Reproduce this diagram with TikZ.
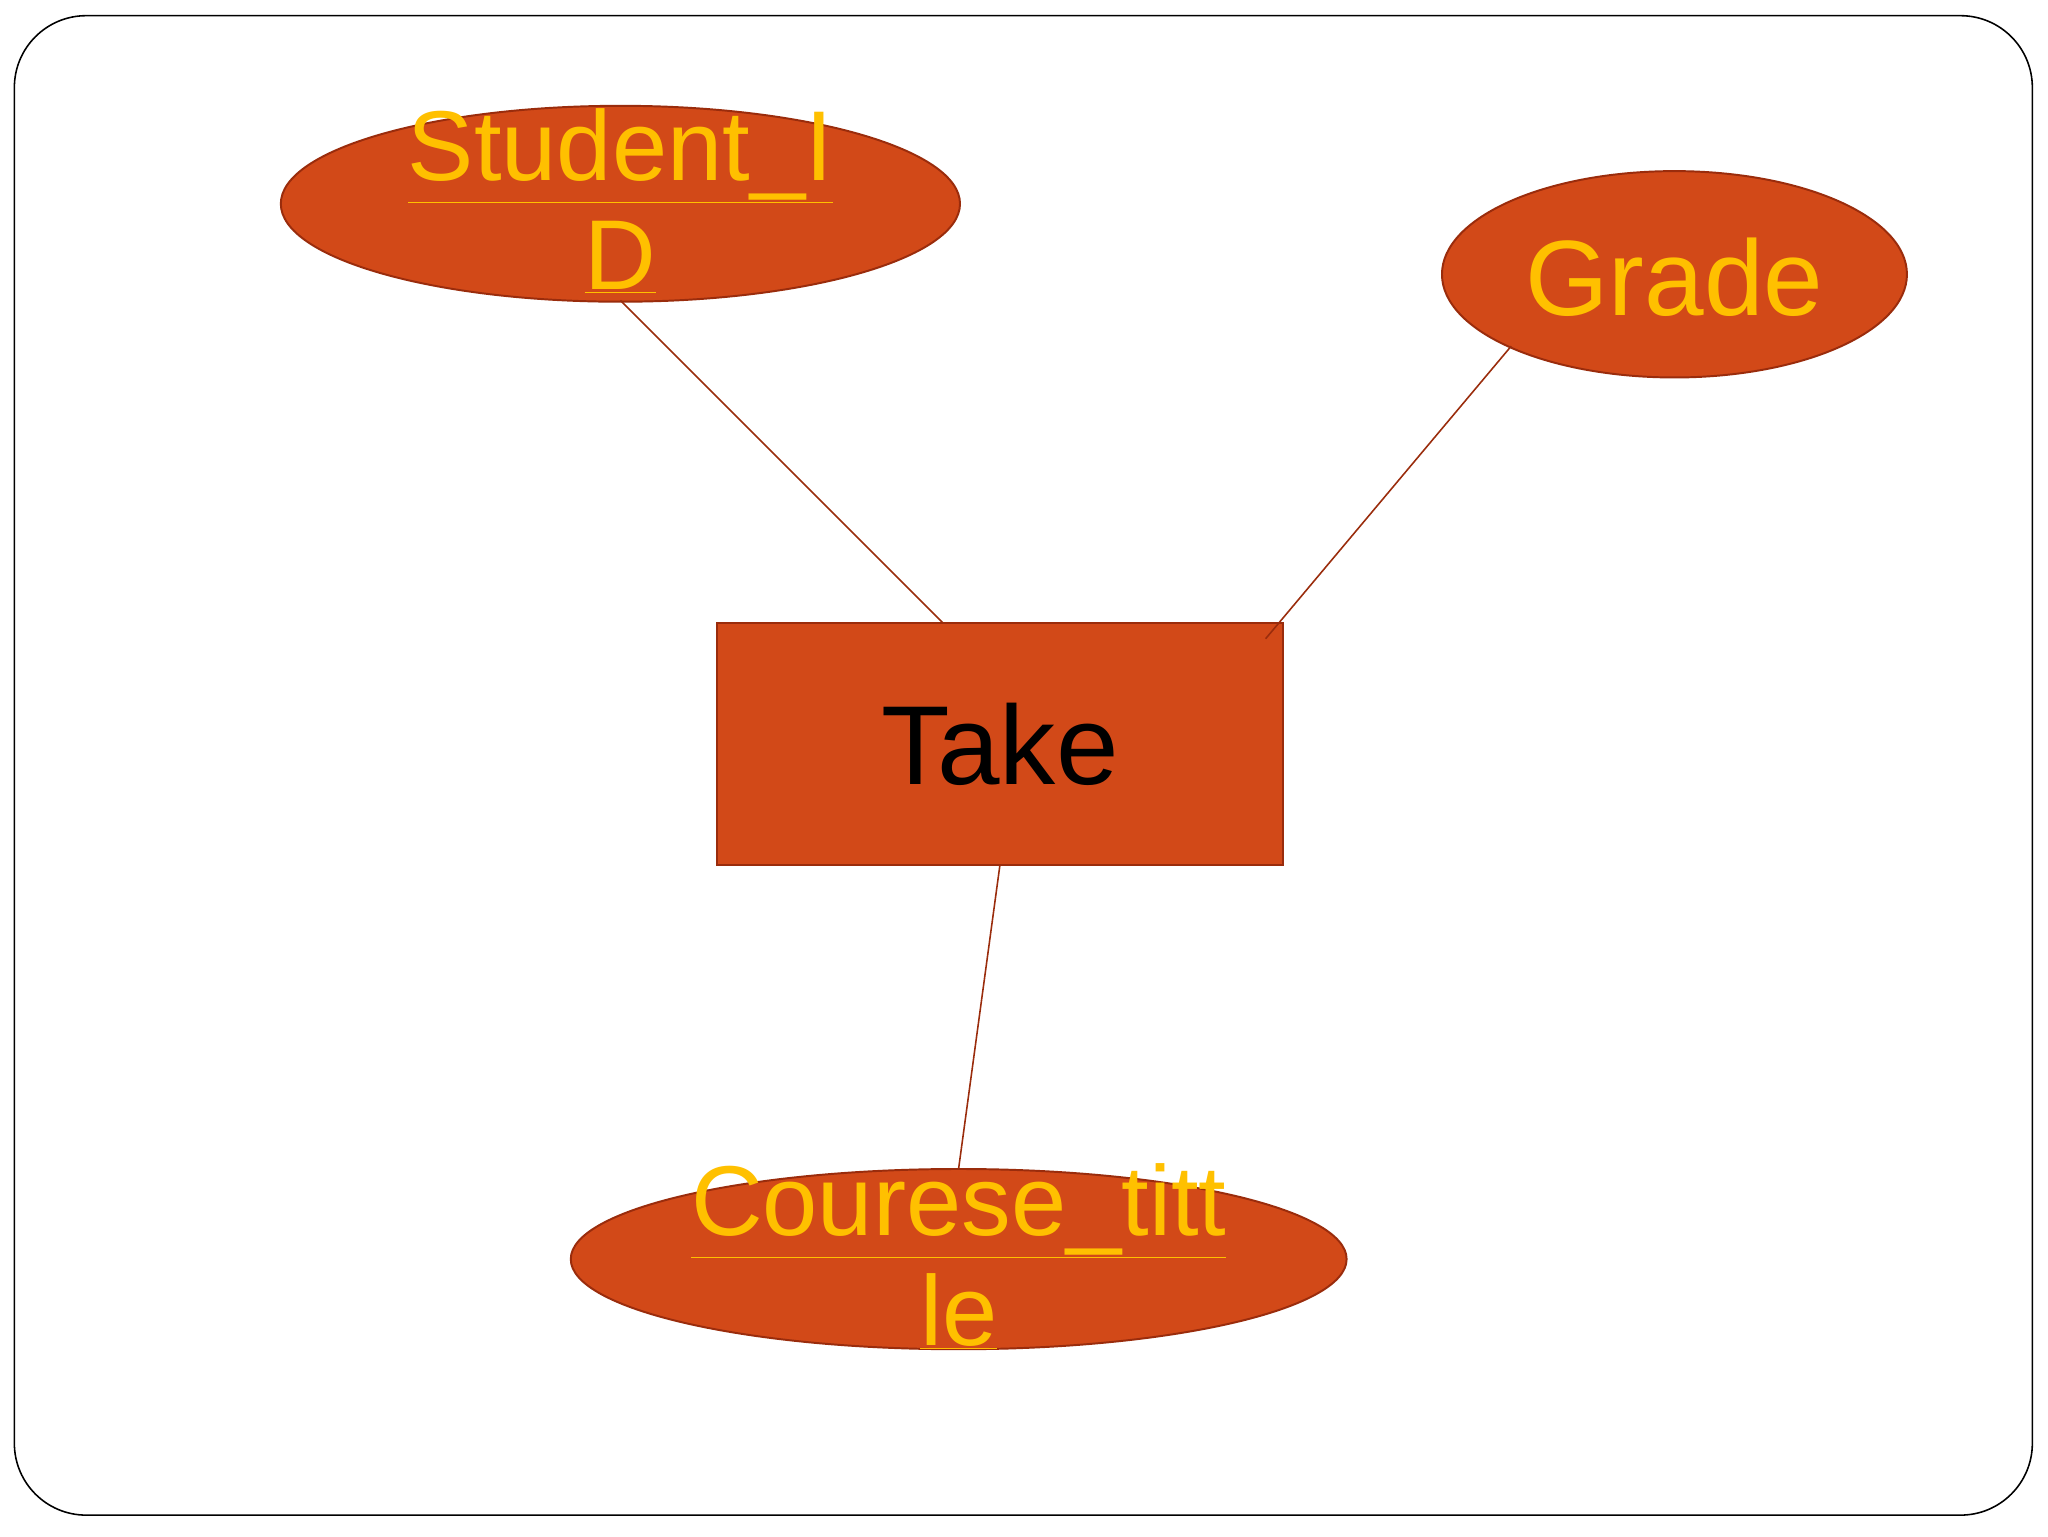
\documentclass[tikz,border=0pt]{standalone}
\usepackage{fontspec}
\setmainfont{Liberation Sans}
\usetikzlibrary{shapes.geometric}
\definecolor{erfill}{HTML}{D24918}
\definecolor{erline}{HTML}{9A2C0C}
\definecolor{ertext}{HTML}{FFC000}
\tikzset{
 attr/.style={ellipse,draw=erline,fill=erfill,line width=1.5pt,inner sep=0pt},
 conn/.style={draw=erline,line width=1.2pt},
 atext/.style={text=ertext,inner sep=0pt,anchor=base},
}
\begin{document}
\begin{tikzpicture}[x=1pt,y=-1pt]
\useasboundingbox (0,0) rectangle (1568,1176);
\fill[white] (0,0) rectangle (1568,1176);
\draw[line width=1.2pt,rounded corners=55pt] (11,12) rectangle (1556,1160);
\node[attr,minimum width=520pt,minimum height=150pt] (sid) at (475,156) {};
\node[attr,minimum width=356pt,minimum height=158pt] (grade) at (1282,210) {};
\node[attr,minimum width=594pt,minimum height=138pt] (course) at (734,964) {};
\node[draw=erline,fill=erfill,line width=1.5pt,minimum width=433pt,minimum height=185pt,
 font=\fontsize{86}{100}\selectfont] (take) at (765.5,569.5) {Take};
\coordinate (s1) at (475,230);
\coordinate (g1) at (969,489);
\draw[conn] (s1) -- (722,477);
\draw[conn] (grade.south west) ++(52,-9) coordinate (g0);
\draw[conn] (1157,265) -- (g1);
\draw[conn] (take.south) ++(0,0) -- (course.north);
\node[atext,font=\fontsize{76}{90}\selectfont] (sidt1) at (475,138) {\underline{Student\_I}};
\node[atext,font=\fontsize{76}{90}\selectfont] (sidt2) at (475,222) {\underline{D}};
\node[text=ertext,font=\fontsize{82}{96}\selectfont] (gt) at (1282,212) {Grade};
\node[atext,font=\fontsize{76}{90}\selectfont] (ct1) at (734,946) {\underline{Courese\_titt}};
\node[atext,font=\fontsize{76}{90}\selectfont] (ct2) at (734,1030) {\underline{le}};
\end{tikzpicture}
\end{document}
